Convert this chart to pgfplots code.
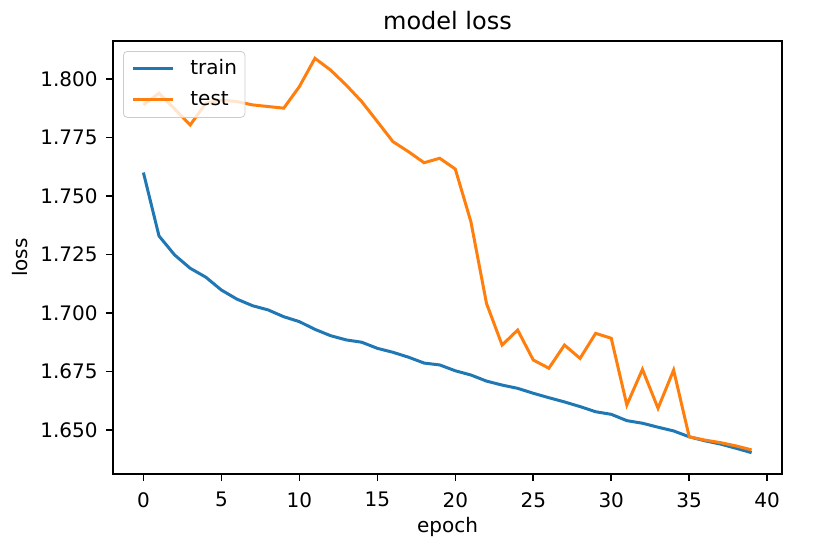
\documentclass[border=0pt]{standalone}
\usepackage{fontspec}
\setmainfont{DejaVu Sans}
\usepackage{pgfplots}
\pgfplotsset{compat=1.18}
\definecolor{tabblue}{HTML}{1F77B4}
\definecolor{taborange}{HTML}{FF7F0E}
\begin{document}
\begin{tikzpicture}
\begin{axis}[
scale only axis,
width=334.5pt, height=216.5pt,
xmin=-1.95, xmax=40.95,
ymin=1.6312, ymax=1.8162,
xtick={0,5,10,15,20,25,30,35,40},
ytick={1.650,1.675,1.700,1.725,1.750,1.775,1.800},
xtick pos=bottom, ytick pos=left,
tick align=outside,
major tick length=3.5pt,
every tick/.style={black, line width=0.8pt},
axis line style={black, line width=0.8pt},
/pgf/number format/assume math mode=true,
ticklabel style={font=\fontsize{10}{12}\selectfont, inner sep=0pt},
xticklabel style={yshift=-5.5pt},
yticklabel style={xshift=-4pt, /pgf/number format/.cd, fixed, fixed zerofill, precision=3},
title={model loss},
title style={at={(axis description cs:0.5,1)}, anchor=base, inner sep=0pt, font=\fontsize{12}{14}\selectfont},
xlabel={epoch},
ylabel={loss},
label style={font=\fontsize{10}{12}\selectfont, inner sep=0pt},
xlabel style={at={(axis description cs:0.5,-0.0993)}, anchor=north},
ylabel style={at={(axis description cs:-0.1271,0.5)}, anchor=south},
legend style={at={(axis description cs:0,1)}, anchor=north west, xshift=5pt, yshift=-5pt,
  draw=black!20, rounded corners=2pt, fill=white, fill opacity=0.8, text opacity=1,
  inner xsep=4pt, inner ysep=4pt, row sep=6pt, column sep=8pt,
  font=\fontsize{10}{12}\selectfont,
  nodes={inner sep=0pt, text height=7.5pt, text depth=2pt, anchor=west}},
legend cell align=left,
legend image code/.code={\draw[#1, line width=1.5pt] (0pt,0pt) -- (20pt,0pt);},
]
\addplot[color=tabblue, line width=1.5pt] coordinates {
(0,1.7600) (1,1.7329) (2,1.7248) (3,1.7191) (4,1.7153) (5,1.7098) (6,1.7059) (7,1.7031)
(8,1.7013) (9,1.6984) (10,1.6963) (11,1.6930) (12,1.6903) (13,1.6885) (14,1.6875) (15,1.6849)
(16,1.6832) (17,1.6811) (18,1.6786) (19,1.6778) (20,1.6753) (21,1.6735) (22,1.6709) (23,1.6692)
(24,1.6678) (25,1.6657) (26,1.6638) (27,1.6620) (28,1.6600) (29,1.6578) (30,1.6567) (31,1.6540)
(32,1.6529) (33,1.6512) (34,1.6496) (35,1.6471) (36,1.6454) (37,1.6440) (38,1.6422) (39,1.6403)
};
\addlegendentry{train}
\addplot[color=taborange, line width=1.5pt] coordinates {
(0,1.7889) (1,1.7939) (2,1.7872) (3,1.7803) (4,1.7896) (5,1.7910) (6,1.7903) (7,1.7889)
(8,1.7882) (9,1.7875) (10,1.7967) (11,1.8088) (12,1.8038) (13,1.7974) (14,1.7903) (15,1.7818)
(16,1.7732) (17,1.7689) (18,1.7642) (19,1.7661) (20,1.7615) (21,1.7390) (22,1.7041) (23,1.6863)
(24,1.6927) (25,1.6799) (26,1.6764) (27,1.6863) (28,1.6806) (29,1.6913) (30,1.6892) (31,1.6607)
(32,1.6759) (33,1.6593) (34,1.6756) (35,1.6471) (36,1.6457) (37,1.6446) (38,1.6432) (39,1.6415)
};
\addlegendentry{test}
\end{axis}
\pgfresetboundingbox
\path[use as bounding box] ([shift={(-56.5pt,-40pt)}]current axis.south west) rectangle ([shift={(24pt,20.5pt)}]current axis.north east);
\end{tikzpicture}
\end{document}
